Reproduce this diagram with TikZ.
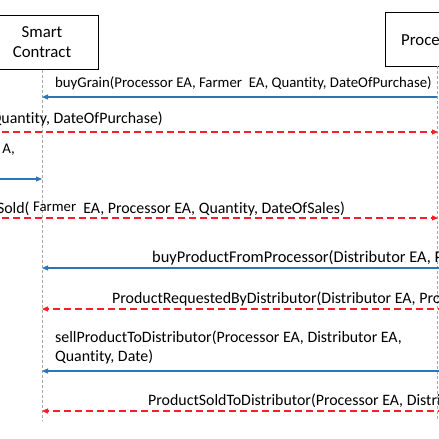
\documentclass[tikz,border=0pt]{standalone}
\usepackage{fontspec}
\setmainfont[Ligatures={NoCommon}]{Carlito}
\usetikzlibrary{arrows.meta}
\definecolor{msgblue}{RGB}{46,117,182}
\definecolor{msgred}{RGB}{250,30,40}
\begin{document}
\begin{tikzpicture}[x=1pt,y=-1pt,
  actor/.style={draw=black,line width=1pt,fill=white,minimum height=54pt,align=center,font=\fontsize{16.8}{20}\selectfont,inner sep=0pt},
  lifeline/.style={draw=black!35,line width=0.7pt,dash pattern=on 3pt off 2pt},
  call/.style={draw=msgblue,line width=1.1pt,-{Triangle[length=6pt,width=5pt]}},
  event/.style={draw=msgred,line width=1.1pt,dash pattern=on 7pt off 4pt,-{Triangle[length=6pt,width=5pt]}},
  lbl/.style={inner sep=0pt,font=\fontsize{14.8}{19}\selectfont},
  biglbl/.style={inner sep=0pt,font=\fontsize{15.9}{19}\selectfont}]
\useasboundingbox (0,0) rectangle (439,439);
\fill[white] (0,0) rectangle (439,439);
\clip (0,0) rectangle (439,439);
% actors
\node[actor,minimum width=112pt] (sc) at (42,42) {Smart\\Contract};
\node[actor,minimum width=104pt,anchor=north west] (proc) at (385,12) {\phantom{Processor}};
\node[lbl,font=\fontsize{16.8}{20}\selectfont,anchor=base west] (proctxt) at (401,45) {Processor};
% lifelines
\coordinate (scend) at (42,421);
\coordinate (prtop) at (437,66);
\coordinate (prend) at (437,421);
\draw[lifeline] (sc.south) -- (scend);
\draw[lifeline] (prtop) -- (prend);
% message anchors
\coordinate (s1) at (42,97);   \coordinate (p1) at (437,97);
\coordinate (l2) at (-20,132); \coordinate (p2) at (438,132);
\coordinate (l3) at (-20,179); \coordinate (s3) at (42,179);
\coordinate (l4) at (-20,218); \coordinate (p4) at (438,218);
\coordinate (s5) at (42,268);  \coordinate (p5) at (445,268);
\coordinate (s6) at (42,309);  \coordinate (p6) at (445,309);
\coordinate (s7) at (42,371);  \coordinate (p7) at (445,371);
\coordinate (s8) at (42,411);  \coordinate (p8) at (445,411);
% messages
\draw[call] (p1) -- (s1);
\node[lbl,anchor=base west] (t1) at (55,87) {buyGrain(Processor EA,\ Farmer\ \ EA, Quantity, DateOfPurchase)};
\draw[event] (l2) -- (p2);
\node[biglbl,anchor=base east] (t2) at (163,123) {Quantity, DateOfPurchase)};
\draw[call] (l3) -- (s3);
\node[lbl,anchor=base east] (t3) at (15,153) {A,};
\draw[event] (l4) -- (p4);
\node[biglbl,anchor=base east] (t4) at (345,213) {Sold(\ {\raisebox{1.5pt}{\fontsize{14.8}{19}\selectfont Farmer}}\ \ EA, Processor EA, Quantity, DateOfSales)};
\draw[call] (p5) -- (s5);
\node[biglbl,font=\fontsize{16.4}{19}\selectfont,anchor=base west] (t5) at (152,262) {buyProductFromProcessor(Distributor EA, Processor EA)};
\draw[event] (p6) -- (s6);
\node[biglbl,anchor=base west] (t6) at (112,303) {ProductRequestedByDistributor(Distributor EA, Processor EA)};
\draw[call] (p7) -- (s7);
\node[biglbl,anchor=base west] (t7a) at (55,342) {sellProductToDistributor(Processor EA, Distributor EA,};
\node[biglbl,anchor=base west] (t7b) at (55,361) {Quantity, Date)};
\draw[event] (p8) -- (s8);
\node[biglbl,anchor=base west] (t8) at (148,405) {ProductSoldToDistributor(Processor EA, Distributor EA)};
\end{tikzpicture}
\end{document}
